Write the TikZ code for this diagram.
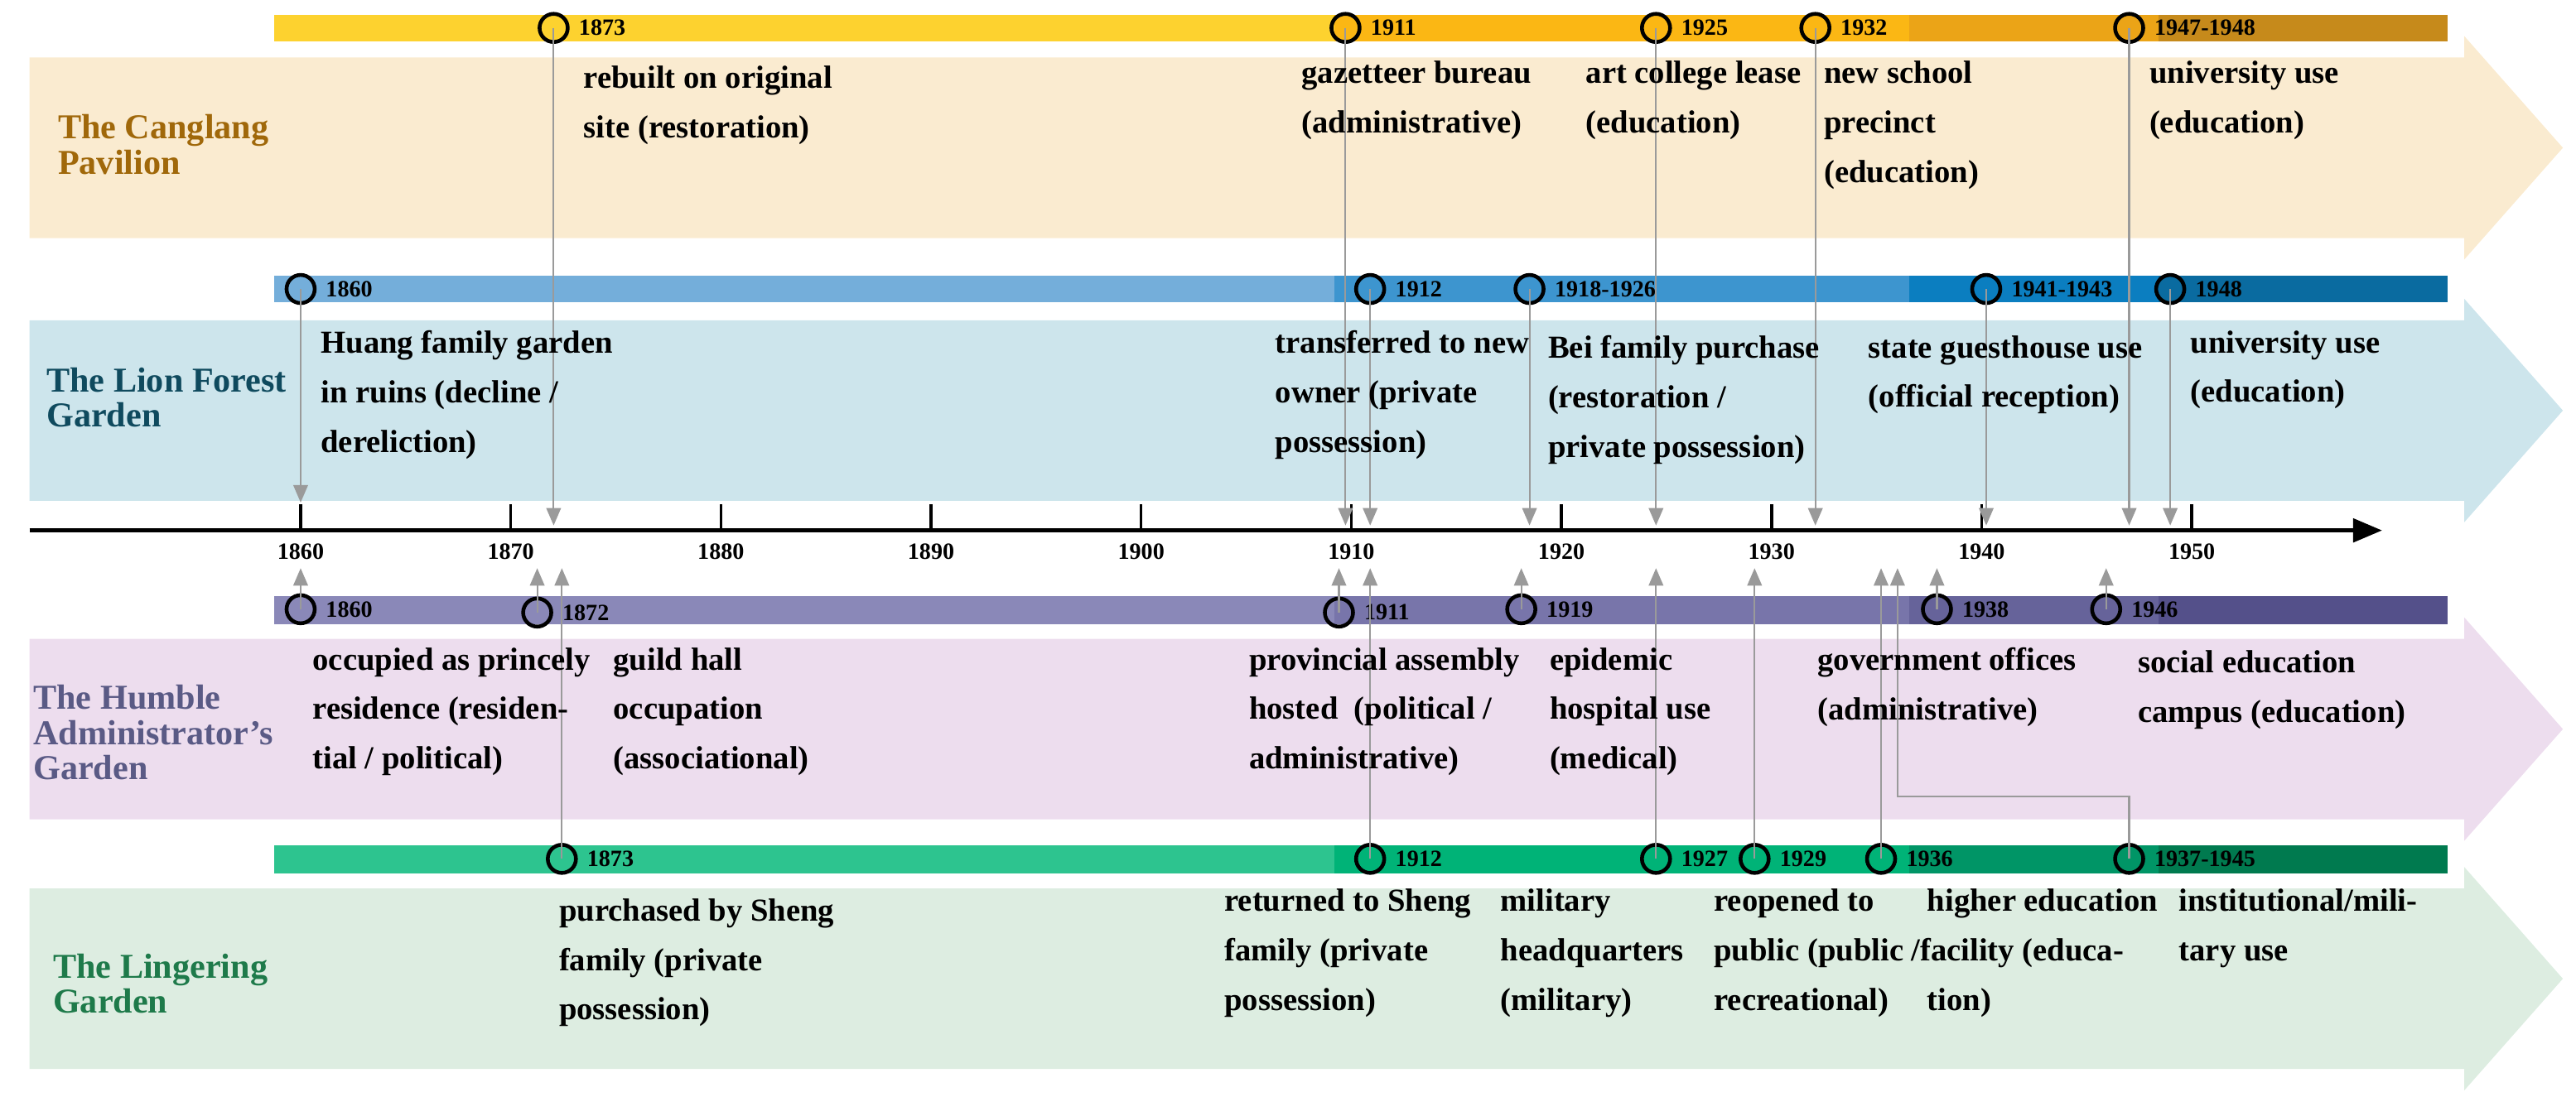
\documentclass[tikz,border=0pt]{standalone}
\usepackage{fontspec}
\setmainfont{Liberation Serif}
\usetikzlibrary{arrows.meta}
\definecolor{cgA}{HTML}{FDD22F}\definecolor{cgB}{HTML}{FBB714}\definecolor{cgC}{HTML}{EBA417}\definecolor{cgD}{HTML}{C68A1B}\definecolor{cgBand}{HTML}{FAEBD0}\definecolor{cgT}{HTML}{A0680A}
\definecolor{lfA}{HTML}{74AEDA}\definecolor{lfB}{HTML}{3D95CF}\definecolor{lfC}{HTML}{0B7EC0}\definecolor{lfD}{HTML}{0A6BA0}\definecolor{lfBand}{HTML}{CDE5EC}\definecolor{lfT}{HTML}{0F4A5E}
\definecolor{haA}{HTML}{8A88B8}\definecolor{haB}{HTML}{7875AA}\definecolor{haC}{HTML}{66639A}\definecolor{haD}{HTML}{54508A}\definecolor{haBand}{HTML}{EDDDEE}\definecolor{haT}{HTML}{5A5A85}
\definecolor{lgA}{HTML}{2DC48F}\definecolor{lgB}{HTML}{00B377}\definecolor{lgC}{HTML}{009566}\definecolor{lgD}{HTML}{007A4F}\definecolor{lgBand}{HTML}{DDEDE1}\definecolor{lgT}{HTML}{1E7A4A}
\definecolor{conn}{HTML}{9A9A9A}
\tikzset{
 txt/.style={anchor=north west,align=left,inner sep=0pt,font=\fontsize{11}{17}\selectfont\bfseries},
 gname/.style={anchor=west,align=left,inner sep=0pt,font=\fontsize{12}{12}\selectfont\bfseries},
 yr/.style={anchor=west,inner sep=0pt,font=\fontsize{8}{8}\selectfont\bfseries},
 evc/.style={circle,draw=black,line width=1.3pt,minimum size=0.34cm,inner sep=0pt},
 conline/.style={draw=conn,line width=0.6pt,-{Triangle[length=6pt,width=5pt]}},
 tk/.style={line width=1pt}
}
\newcommand\ev[4]{\node[evc] (#1) at (#2,#3) {}; \node[yr] (#1t) at ([xshift=3pt]#1.east) {#4};}
\begin{document}
\begin{tikzpicture}[x=0.01983cm,y=-0.01983cm]
\useasboundingbox (0,0) rectangle (1568,667.6);
% bands
\fill[cgBand] (18,35) -- (1500,35) -- (1500,22) -- (1560,90) -- (1500,158) -- (1500,145) -- (18,145) -- cycle;
\fill[lfBand] (18,195) -- (1500,195) -- (1500,182) -- (1560,250) -- (1500,318) -- (1500,305) -- (18,305) -- cycle;
\fill[haBand] (18,389) -- (1500,389) -- (1500,376) -- (1560,444) -- (1500,512) -- (1500,499) -- (18,499) -- cycle;
\fill[lgBand] (18,541) -- (1500,541) -- (1500,528) -- (1560,596) -- (1500,664) -- (1500,651) -- (18,651) -- cycle;
% bars
\fill[cgA] (167,9) rectangle (812,25); \fill[cgB] (812,9) rectangle (1162,25); \fill[cgC] (1162,9) rectangle (1314,25); \fill[cgD] (1314,9) rectangle (1490,25);
\fill[lfA] (167,168) rectangle (812,184); \fill[lfB] (812,168) rectangle (1162,184); \fill[lfC] (1162,168) rectangle (1314,184); \fill[lfD] (1314,168) rectangle (1490,184);
\fill[haA] (167,363) rectangle (812,380); \fill[haB] (812,363) rectangle (1162,380); \fill[haC] (1162,363) rectangle (1314,380); \fill[haD] (1314,363) rectangle (1490,380);
\fill[lgA] (167,515) rectangle (812,532); \fill[lgB] (812,515) rectangle (1162,532); \fill[lgC] (1162,515) rectangle (1314,532); \fill[lgD] (1314,515) rectangle (1490,532);
% garden names
\node[gname,text=cgT] (ncg) at (35,88) {The Canglang\\Pavilion};
\node[gname,text=lfT] (nlf) at (28,242) {The Lion Forest\\Garden};
\node[gname,text=haT] (nha) at (20,446) {The Humble\\Administrator's\\Garden};
\node[gname,text=lgT] (nlg) at (32,599) {The Lingering\\Garden};
% axis
\coordinate (ax0) at (18,323); \coordinate (ax1) at (1450,323);
\draw[line width=1.5pt,-{Triangle[length=10pt,width=8pt]}] (ax0) -- (ax1);
\foreach \y [count=\i from 0] in {1860,1870,...,1950}{
  \pgfmathsetmacro\xx{183+\i*127.9}
  \draw[tk] (\xx,323) -- (\xx,307);
  \node[yr,anchor=north] (lab\y) at (\xx,331) {\y};
}
% events
\ev{c1}{337}{17}{1873}\ev{c2}{819}{17}{1911}\ev{c3}{1008}{17}{1925}\ev{c4}{1105}{17}{1932}\ev{c5}{1296}{17}{1947-1948}
\ev{l1}{183}{176}{1860}\ev{l2}{834}{176}{1912}\ev{l3}{931}{176}{1918-1926}\ev{l4}{1209}{176}{1941-1943}\ev{l5}{1321}{176}{1948}
\ev{h1}{183}{371}{1860}\ev{h2}{327}{373}{1872}\ev{h3}{815}{373}{1911}\ev{h4}{926}{371}{1919}\ev{h5}{1179}{371}{1938}\ev{h6}{1282}{371}{1946}
\ev{g1}{342}{523}{1873}\ev{g2}{834}{523}{1912}\ev{g3}{1008}{523}{1927}\ev{g4}{1068}{523}{1929}\ev{g5}{1145}{523}{1936}\ev{g6}{1296}{523}{1937-1945}
% connectors down
\foreach \n/\x in {c1/337,c2/819,c3/1008,c4/1105,c5/1296,l2/834,l3/931,l4/1209,l5/1321}{
  \coordinate (\n a) at (\x,320); \draw[conline] (\n.center) -- (\n a);}
\coordinate (l1a) at (183,306); \draw[conline] (l1.center) -- (l1a);
% connectors up
\foreach \n/\x in {h1/183,h2/327,h3/815,h4/926,h5/1179,h6/1282,g1/342,g2/834,g3/1008,g4/1068,g5/1145}{
  \coordinate (\n a) at (\x,346); \draw[conline] (\n.center) -- (\n a);}
\coordinate (g6b) at (1296,485); \coordinate (g6c) at (1155,485); \coordinate (g6a) at (1155,346);
\draw[conline] (g6.center) -- (g6b) -- (g6c) -- (g6a);
% texts
\node[txt] (tc1) at (355,40) {rebuilt on original\\site (restoration)};
\node[txt] (tc2) at (792,37) {gazetteer bureau\\(administrative)};
\node[txt] (tc3) at (965,37) {art college lease\\(education)};
\node[txt] (tc4) at (1110,37) {new school\\precinct\\(education)};
\node[txt] (tc5) at (1308,37) {university use\\(education)};
\node[txt] (tl1) at (195,201) {Huang family garden\\in ruins (decline /\\dereliction)};
\node[txt] (tl2) at (776,201) {transferred to new\\owner (private\\possession)};
\node[txt] (tl3) at (942,204) {Bei family purchase\\(restoration /\\private possession)};
\node[txt] (tl4) at (1137,204) {state guesthouse use\\(official reception)};
\node[txt] (tl5) at (1333,201) {university use\\(education)};
\node[txt] (th1) at (190,394) {occupied as princely\\residence (residen-\\tial / political)};
\node[txt] (th2) at (373,394) {guild hall\\occupation\\(associational)};
\node[txt] (th3) at (760,394) {provincial assembly\\hosted\ \ (political /\\administrative)};
\node[txt] (th4) at (943,394) {epidemic\\hospital use\\(medical)};
\node[txt] (th5) at (1106,394) {government offices\\(administrative)};
\node[txt] (th6) at (1301,396) {social education\\campus (education)};
\node[txt] (tg1) at (340,547) {purchased by Sheng\\family (private\\possession)};
\node[txt] (tg2) at (745,541) {returned to Sheng\\family (private\\possession)};
\node[txt] (tg3) at (913,541) {military\\headquarters\\(military)};
\node[txt] (tg4) at (1043,541) {reopened to\\public (public\\recreational)};
\node[txt] (tg5) at (1163,541) {\ \ higher education\\/facility (educa-\\\ \ tion)};
\node[txt] (tg6) at (1326,541) {institutional/mili-\\tary use};
\end{tikzpicture}
\end{document}
